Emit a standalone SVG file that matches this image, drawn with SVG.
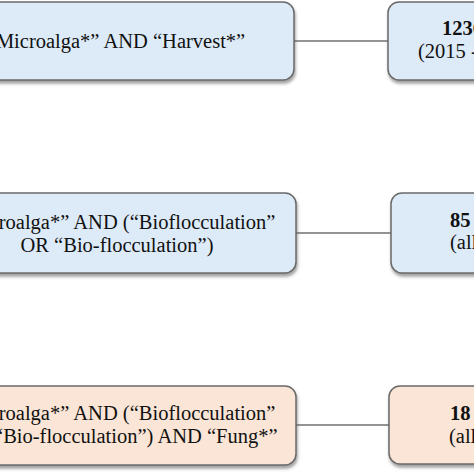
<svg xmlns="http://www.w3.org/2000/svg" width="474" height="474" viewBox="0 0 474 474">
<defs>
<filter id="sh" x="-10%" y="-20%" width="130%" height="150%">
<feDropShadow dx="1" dy="3" stdDeviation="1.8" flood-color="#555" flood-opacity="0.55"/>
</filter>
<style>
.blue{fill:#ddebf8;stroke:#6a6a6a;stroke-width:1.5;filter:url(#sh)}
.peach{fill:#fbe5d6;stroke:#6a6a6a;stroke-width:1.5;filter:url(#sh)}
.t{font-family:"Liberation Serif","Times New Roman",serif;font-size:20.5px;fill:#111}
.c{text-anchor:middle}
.b{font-weight:bold}
.conn line{stroke:#707070;stroke-width:1.5}
</style>
</defs>
<rect width="474" height="474" fill="#ffffff"/>
<g class="conn" id="connectors">
<line x1="294" y1="41" x2="388" y2="41"/>
<line x1="296" y1="233" x2="391" y2="233"/>
<line x1="296" y1="425" x2="389" y2="425"/>
</g>
<g id="q1">
<rect class="blue" x="-70" y="2" width="364" height="78" rx="11"/>
<text class="t c" x="116" y="48">“Microalga*” AND “Harvest*”</text>
</g>
<g id="r1">
<rect class="blue" x="388" y="2" width="200" height="78" rx="11"/>
<text class="t b" x="442" y="35">1236</text>
<text class="t" x="418" y="58">(2015 -</text>
</g>
<g id="q2">
<rect class="blue" x="-70" y="193" width="366" height="80" rx="11"/>
<text class="t c" x="116" y="229">“Microalga*” AND (“Bioflocculation”</text>
<text class="t c" x="117" y="252">OR “Bio-flocculation”)</text>
</g>
<g id="r2">
<rect class="blue" x="391" y="193" width="200" height="80" rx="11"/>
<text class="t b" x="450" y="227">85</text>
<text class="t" x="450" y="249">(all</text>
</g>
<g id="q3">
<rect class="peach" x="-70" y="386" width="366" height="79" rx="11"/>
<text class="t c" x="116" y="420">“Microalga*” AND (“Bioflocculation”</text>
<text class="t c" x="119" y="443">OR “Bio-flocculation”) AND “Fung*”</text>
</g>
<g id="r3">
<rect class="peach" x="389" y="386" width="200" height="78" rx="11"/>
<text class="t b" x="450" y="420">18</text>
<text class="t" x="449" y="443">(all</text>
</g>
</svg>
